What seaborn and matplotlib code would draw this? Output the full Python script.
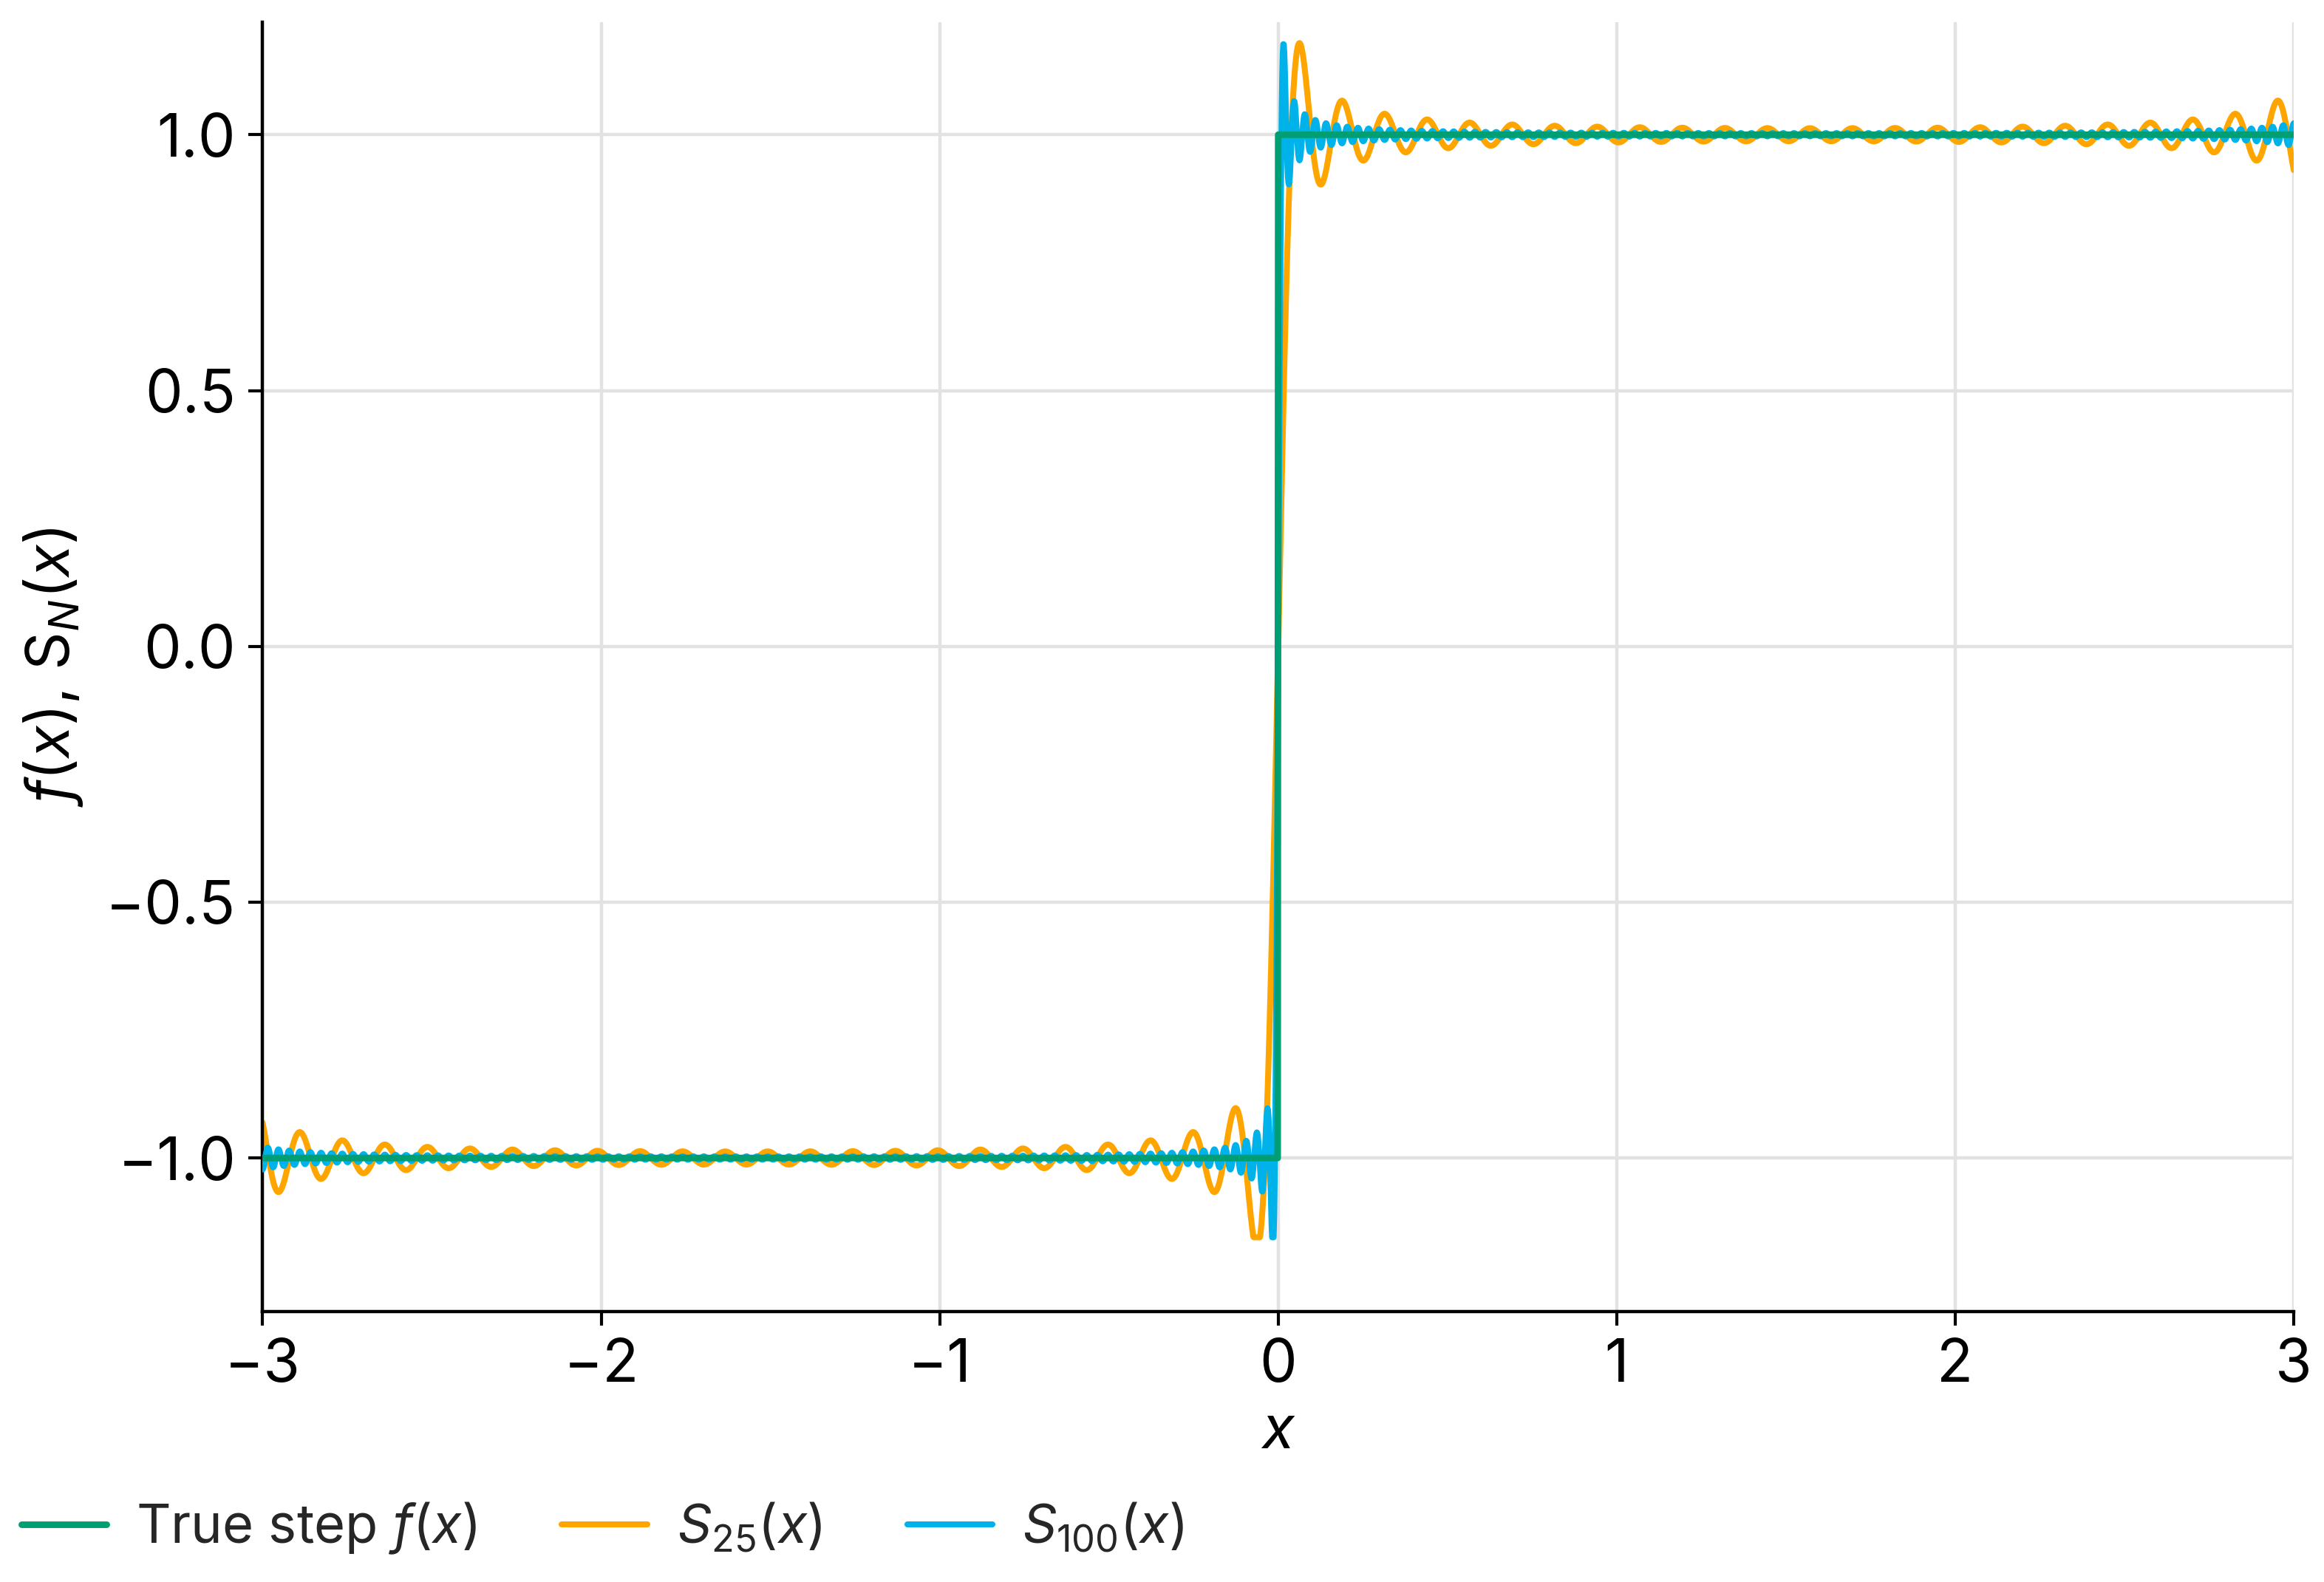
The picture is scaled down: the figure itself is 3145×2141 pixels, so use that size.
import numpy as np
import pandas as pd
import matplotlib
matplotlib.use("Agg")
import matplotlib.pyplot as plt
import seaborn as sns

# ---- data definition ----
x_range = [-3.0, 3.0]
n_samples = 4001
term_counts = [25, 100]            # number of odd-harmonic terms in each partial sum
series_labels = [r"True step $f(x)$", r"$S_{25}(x)$", r"$S_{100}(x)$"]
series_colors = ["#009E73", "#FFA500", "#00B2EA"]
clip_low = -1.155                  # lower overshoot is flattened in the reference
x_ticks = [-3, -2, -1, 0, 1, 2, 3]
y_ticks = [-1.0, -0.5, 0.0, 0.5, 1.0]
y_limits = [-1.30, 1.22]

x = np.linspace(x_range[0], x_range[1], n_samples)
step = np.where(x < 0, -1.0, 1.0)

def partial_sum(xv, n_terms):
    k = np.arange(1, n_terms + 1)
    h = 2 * k - 1
    return (4 / np.pi) * np.sum(np.sin(np.outer(xv, h)) / h, axis=1)

s25 = np.clip(partial_sum(x, term_counts[0]), clip_low, None)
s100 = np.clip(partial_sum(x, term_counts[1]), clip_low, None)

df = pd.concat([
    pd.DataFrame({"x": x, "y": step, "series": series_labels[0]}),
    pd.DataFrame({"x": x, "y": s25, "series": series_labels[1]}),
    pd.DataFrame({"x": x, "y": s100, "series": series_labels[2]}),
])

# ---- styling ----
sns.set_theme(style="whitegrid")
plt.rcParams["font.family"] = ["Inter", "DejaVu Sans"]
plt.rcParams["mathtext.fontset"] = "custom"
plt.rcParams["mathtext.rm"] = "Inter"
plt.rcParams["mathtext.it"] = "Inter:italic"
plt.rcParams["mathtext.bf"] = "Inter:bold"

FS = 29
LFS = 26
fig = plt.figure(figsize=(15.725, 10.705), dpi=200)
ax = fig.add_axes([0.113, 0.171, 0.874, 0.815])

zorders = [4, 2, 3]
widths = [3.2, 2.9, 2.9]
for lab, col, z, w in zip(series_labels, series_colors, zorders, widths):
    sns.lineplot(data=df[df["series"] == lab], x="x", y="y", color=col,
                 linewidth=w, ax=ax, label=lab, estimator=None, sort=False,
                 zorder=z)

ax.set_xlim(*x_range)
ax.set_ylim(*y_limits)
ax.set_xticks(x_ticks)
ax.set_yticks(y_ticks)
ax.set_xticklabels([f"{t:d}".replace("-", "\u2212") for t in x_ticks])
ax.set_yticklabels([f"{t:.1f}".replace("-", "\u2212") for t in y_ticks])
ax.tick_params(axis="both", labelsize=FS, length=7, width=1.5, color="black",
               labelcolor="black", direction="out", pad=6, bottom=True, left=True)
ax.grid(True, color="#E2E2E2", linewidth=1.6)
for side in ["top", "right"]:
    ax.spines[side].set_visible(False)
for side in ["left", "bottom"]:
    ax.spines[side].set_color("black")
    ax.spines[side].set_linewidth(1.6)

ax.set_xlabel(r"$x$", fontsize=FS, labelpad=5, color="black")
ax.set_ylabel(r"$f(x)$, S$_{N}(x)$", fontsize=FS, labelpad=10, color="black")

ax.get_legend().remove()
handles, labels = ax.get_legend_handles_labels()
fig.legend(handles, labels, loc="center left", bbox_to_anchor=(0.0, 0.034),
           borderaxespad=0, ncol=3, frameon=False, fontsize=LFS,
           handlelength=1.6, handletextpad=0.55, columnspacing=1.6)

fig.savefig("out.png", dpi=200)
